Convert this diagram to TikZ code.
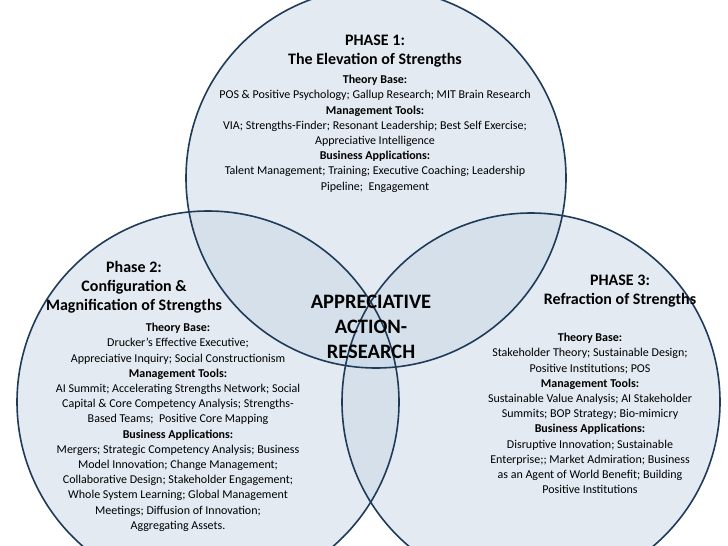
\documentclass[tikz,border=0pt]{standalone}
\usepackage{fontspec}
\setmainfont{Carlito}
\definecolor{cfill}{HTML}{C9D7E6}
\definecolor{cline}{HTML}{1F3B5A}
\begin{document}
\begin{tikzpicture}[x=1pt,y=-1pt,
  circ/.style={fill=cfill,fill opacity=0.5},
  ring/.style={draw=cline,line width=1.6pt},
  body/.style={align=center,font=\fontsize{12}{15.2}\selectfont,inner sep=0pt},
  head/.style={align=center,font=\fontsize{16}{19}\selectfont\bfseries,inner sep=0pt}]
\useasboundingbox (0,0) rectangle (728,546);
\fill[white] (0,0) rectangle (728,546);
\fill[circ] (376,178) circle (190);
\fill[circ] (208,402) circle (191);
\fill[circ] (531,402) circle (189);
\draw[ring] (376,178) circle (190);
\draw[ring] (208,402) circle (191);
\draw[ring] (531,402) circle (189);
\node[head] (h1) at (375,51) {PHASE 1:\\The Elevation of Strengths};
\node[body,anchor=north] (b1) at (375,75) {\textbf{Theory Base:}\\POS \& Positive Psychology; Gallup Research; MIT Brain Research\\\textbf{Management Tools:}\\VIA; Strengths-Finder; Resonant Leadership; Best Self Exercise;\\Appreciative Intelligence\\\textbf{Business Applications:}\\Talent Management; Training; Executive Coaching; Leadership\\Pipeline;\ \ Engagement};
\node[head] (h2) at (134,287) {Phase 2:\\Configuration \&\\Magnification of Strengths};
\node[body,anchor=north] (b2) at (178,323) {\textbf{Theory Base:}\\Drucker's Effective Executive;\\Appreciative Inquiry; Social Constructionism\\\textbf{Management Tools:}\\AI Summit; Accelerating Strengths Network; Social\\Capital \& Core Competency Analysis; Strengths-\\Based Teams;\ \ Positive Core Mapping\\\textbf{Business Applications:}\\Mergers; Strategic Competency Analysis; Business\\Model Innovation; Change Management;\\Collaborative Design; Stakeholder Engagement;\\Whole System Learning; Global Management\\Meetings; Diffusion of Innovation;\\Aggregating Assets.};
\node[head] (h3) at (620,291) {PHASE 3:\\Refraction of Strengths};
\node[body,anchor=north] (b3) at (590,333) {\textbf{Theory Base:}\\Stakeholder Theory; Sustainable Design;\\Positive Institutions; POS\\\textbf{Management Tools:}\\Sustainable Value Analysis; AI Stakeholder\\Summits; BOP Strategy; Bio-mimicry\\\textbf{Business Applications:}\\Disruptive Innovation; Sustainable\\Enterprise;; Market Admiration; Business\\as an Agent of World Benefit; Building\\Positive Institutions};
\node[head,font=\fontsize{20.5}{25}\selectfont\bfseries] (c) at (371,327) {APPRECIATIVE\\ACTION-\\RESEARCH};
\end{tikzpicture}
\end{document}
